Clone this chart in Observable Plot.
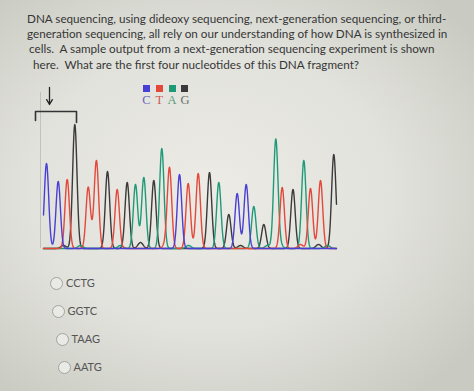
<!DOCTYPE html>
<html>
<head>
<meta charset="utf-8">
<script src="https://cdn.jsdelivr.net/npm/d3@7"></script>
<script src="https://cdn.jsdelivr.net/npm/@observablehq/plot@0.6"></script>
<style>
  html, body { margin: 0; padding: 0; }
  body {
    width: 474px; height: 391px; overflow: hidden; position: relative;
    background: radial-gradient(ellipse 330px 260px at 210px 190px, #ecebe6 0%, #e2e2dc 55%, #c9cbc2 100%);
    font-family: Lato, "Open Sans", sans-serif;
  }
  #q { position: absolute; top: 11px; left: 0; color: #363636; font-size: 11.7px; line-height: 15.2px; }
  #q div { white-space: pre; }
  #chart { position: absolute; top: 80px; left: 0; }
  #legend { position: absolute; top: 85px; left: 140px; font-family: "Liberation Serif", "DejaVu Serif", serif; font-size: 12.5px; }
  .lg { position: absolute; width: 13px; text-align: center; }
  .sq { width: 7px; height: 7px; margin: 0 auto; }
  .opt { position: absolute; font-size: 11px; color: #555; }
  .rad { position: absolute; width: 11px; height: 11px; border: 1.3px solid #a3a39f; border-radius: 50%; background: #e9e9e5; }
</style>
</head>
<body>
<div id="q"></div>
<div id="chart"></div>
<div id="legend"></div>
<div id="opts"></div>
<script>
// ---- data ----
const questionLines = [
  "DNA sequencing, using dideoxy sequencing, next-generation sequencing, or third-",
  "generation sequencing, all rely on our understanding of how DNA is synthesized in",
  "cells.  A sample output from a next-generation sequencing experiment is shown",
  "here.  What are the first four nucleotides of this DNA fragment?"
];
const bases = ["C", "T", "A", "G"];
const baseColors = ["#4a3fd4", "#e4483b", "#1f9a79", "#3b3939"];
const legendTextColors = ["#6b62c2", "#cf5a58", "#5d9a7c", "#6c6c6c"];
// called peaks: base, scan position, intensity
const peakBase = "CCTGTTGTGAAGATCTTGAGCCAGATGATTG".split("");
const peakPos = [11, 22.7, 31.7, 39.3, 52.7, 61, 72, 81.7, 91.7, 100, 108.3, 118.3, 126.3, 134, 144, 152.7,
  162.7, 174, 183.3, 193.3, 201.7, 210.7, 218.3, 228.3, 240.3, 246.7, 257.5, 268.3, 275, 285, 298.3];
const peakHeight = [85, 67, 69, 124, 61, 82, 77, 59, 66, 64, 71, 68, 100, 80, 74, 65,
  75, 76, 66, 34, 55, 64, 42, 24, 109, 61, 59, 88, 60, 68, 94];
// small background bumps
const bumpBase = "GATAGTAGAATGA".split("");
const bumpPos = [28, 45, 59, 85, 105, 130, 153, 205, 232, 245, 265, 283, 292];
const bumpHeight = [3, 3, 8, 3, 6, 4, 3, 3, 3, 3, 4, 4, 3];
const scanStart = 8, scanEnd = 301;
const options = ["CCTG", "GGTC", "TAAG", "AATG"];

// ---- question text ----
const offs = [27, 27, 29, 33];
const q = document.getElementById("q");
questionLines.forEach((t, i) => {
  const d = document.createElement("div");
  d.textContent = t; d.style.marginLeft = offs[i] + "px";
  q.appendChild(d);
});

// ---- traces built from peaks ----
const peaks = peakBase.map((b, i) => ({base: b, pos: peakPos[i], h: peakHeight[i], s: 2.2}))
  .concat(bumpBase.map((b, i) => ({base: b, pos: bumpPos[i], h: bumpHeight[i], s: 2.6})));
const trace = [];
for (const b of bases) {
  const ps = peaks.filter(p => p.base === b);
  for (let x = scanStart; x <= scanEnd; x += 0.25) {
    let v = 0;
    for (const p of ps) v += p.h * Math.exp(-0.5 * ((x - p.pos) / p.s) ** 2);
    trace.push({base: b, x, v});
  }
}
const order = ["G", "A", "T", "C"];
const bracket = [{x: 0, y: 128}, {x: 0, y: 137}, {x: 41, y: 137}, {x: 41, y: 126}];

const chart = Plot.plot({
  width: 474, height: 175,
  marginLeft: 35, marginRight: 139, marginTop: 0, marginBottom: 7,
  x: {domain: [0, 300], axis: null},
  y: {domain: [0, 168], axis: null},
  color: {domain: bases, range: baseColors},
  style: {background: "transparent", overflow: "visible"},
  marks: [
    Plot.ruleX([5], {y1: 0, y2: 156, stroke: "#b9b9b5", strokeWidth: 0.8}),
    ...order.map(b => Plot.line(trace.filter(d => d.base === b), {x: "x", y: "v", stroke: "base", strokeWidth: 1.4, curve: "linear"})),
    Plot.line(bracket, {x: "x", y: "y", stroke: "#333", strokeWidth: 1.6}),
    Plot.arrow([{x: 14, y1: 161, y2: 144}], {x1: "x", x2: "x", y1: "y1", y2: "y2", stroke: "#222", strokeWidth: 1.3, headLength: 7})
  ]
});
document.getElementById("chart").appendChild(chart);

// ---- legend ----
const lg = document.getElementById("legend");
bases.forEach((b, i) => {
  const d = document.createElement("div");
  d.className = "lg"; d.style.left = (i * 12.8) + "px";
  d.innerHTML = `<div class="sq" style="background:${baseColors[i]}"></div><div style="color:${legendTextColors[i]};margin-top:2px;line-height:12px">${b}</div>`;
  lg.appendChild(d);
});

// ---- answer options ----
const radX = [50, 52, 56, 58], txtX = [66, 67.5, 71.5, 73.5], optY = [283, 311, 339, 367];
const opts = document.getElementById("opts");
options.forEach((t, i) => {
  const r = document.createElement("div");
  r.className = "rad"; r.style.left = radX[i] + "px"; r.style.top = (optY[i] - 6.5) + "px";
  opts.appendChild(r);
  const l = document.createElement("div");
  l.className = "opt"; l.textContent = t; l.style.left = txtX[i] + "px"; l.style.top = (optY[i] - 7) + "px";
  opts.appendChild(l);
});
</script>
</body>
</html>
